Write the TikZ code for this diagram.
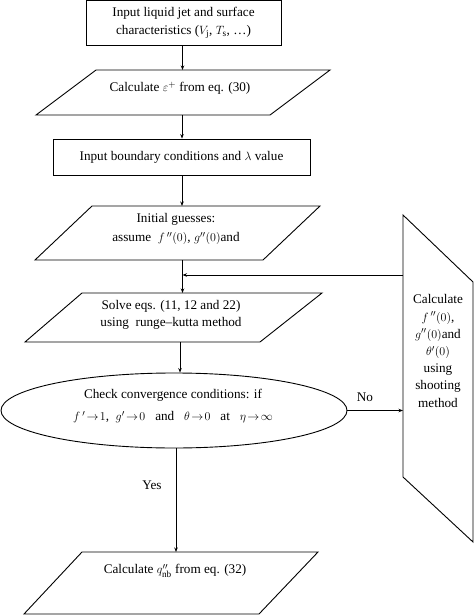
\documentclass[tikz,border=0pt]{standalone}
\usepackage{fontspec}
\setmainfont{Liberation Serif}
\usetikzlibrary{shapes.geometric,arrows.meta}
\begin{document}
\begin{tikzpicture}[x=1pt,y=-1pt,
  shapeline/.style={draw=black,line width=0.9pt},
  rbox/.style={shapeline,rectangle,inner sep=0pt},
  txt/.style={align=center,inner sep=0pt,font=\fontsize{13.2}{18}\selectfont},
  arr/.style={draw=black,line width=0.8pt,-{Stealth[length=4.5pt,width=3.5pt]}},
  lbl/.style={inner sep=0pt,font=\fontsize{13.2}{15}\selectfont}]
\useasboundingbox (0,0) rectangle (474,615);
% box 1
\node[rbox,minimum width=195pt,minimum height=45pt] (b1) at (183.5,23) {};
\node[txt] (t1) at (b1.center) {Input liquid jet and surface\\characteristics ($V_{\mathrm{j}}$, $T_{\mathrm{s}}$, \ldots)};
% para 2
\draw[shapeline] (96,70) -- (330,70) -- (270,115) -- (36,115) -- cycle;
\coordinate (p2top) at (182.5,70);
\coordinate (p2bot) at (182,115);
\node[txt] (t2) at (180,88) {Calculate $\varepsilon^{+}$\ from eq. (30)};
% box 3
\node[rbox,minimum width=257pt,minimum height=36pt] (b3) at (181.5,157) {};
\node[txt] (t3) at (b3.center) {Input boundary conditions and $\lambda$\ value};
% para 4
\draw[shapeline] (92,206) -- (320,206) -- (263,260) -- (35,260) -- cycle;
\coordinate (p4top) at (182,206);
\coordinate (p4bot) at (182.5,260);
\node[txt,font=\fontsize{13.2}{19}\selectfont] (t4) at (176,229) {Initial guesses:\\assume\ \ $f\,''(0)$,\ $g''(0)$and};
% para 5
\draw[shapeline] (82,293) -- (322,293) -- (260,342) -- (25,342) -- cycle;
\coordinate (p5top) at (182.5,293);
\coordinate (p5bot) at (180,342);
\node[txt,font=\fontsize{13.2}{16.5}\selectfont] (t5) at (171,315) {Solve eqs. (11, 12 and 22)\\using\ \ runge--kutta method};
% ellipse
\node[shapeline,ellipse,minimum width=346pt,minimum height=75pt,inner sep=0pt] (e6) at (174,410.5) {};
\node[txt,font=\fontsize{13.2}{22}\selectfont] (t6) at (173,406) {Check convergence conditions: if\\$f\,'\!\to\!1$,\ \ $g'\!\to\!0$\ \ \ and\ \ \ $\theta\!\to\!0$\ \ \ at\ \ \ $\eta\!\to\!\infty$};
% para 7
\draw[shapeline] (82,552) -- (318,552) -- (259,614) -- (24,614) -- cycle;
\coordinate (p7top) at (176,552);
\node[txt] (t7) at (175,571) {Calculate $q''_{\mathrm{nb}}$\ from eq. (32)};
% tall shape
\draw[shapeline] (403,215) -- (473,282) -- (473,542) -- (403,477) -- cycle;
\coordinate (tleftNo) at (403,412);
\coordinate (tleftFb) at (403,275);
\node[txt,font=\fontsize{13.2}{17.2}\selectfont] (t8) at (438,351) {Calculate\\$f\,''(0)$,\\$g''(0)$and\\$\theta'(0)$\\using\\shooting\\method};
% flow
\coordinate (flow4) at (182.5,275);
\draw[arr] (b1.south -| p2top) -- (p2top);
\draw[arr] (p2bot) -- (p2bot |- b3.north);
\draw[arr] (b3.south -| p4top) -- (p4top);
\draw[arr] (p4bot) -- (p5top);
\draw[arr] (tleftFb) -- (flow4);
\draw[arr] (p5bot) -- (p5bot |- e6.north);
\draw[arr] (e6.south -| p7top) -- (p7top);
\draw[arr] (e6.east) -- (e6.east -| tleftNo);
\node[lbl] (no) at (365,397) {No};
\node[lbl] (yes) at (152,485) {Yes};
\end{tikzpicture}
\end{document}
